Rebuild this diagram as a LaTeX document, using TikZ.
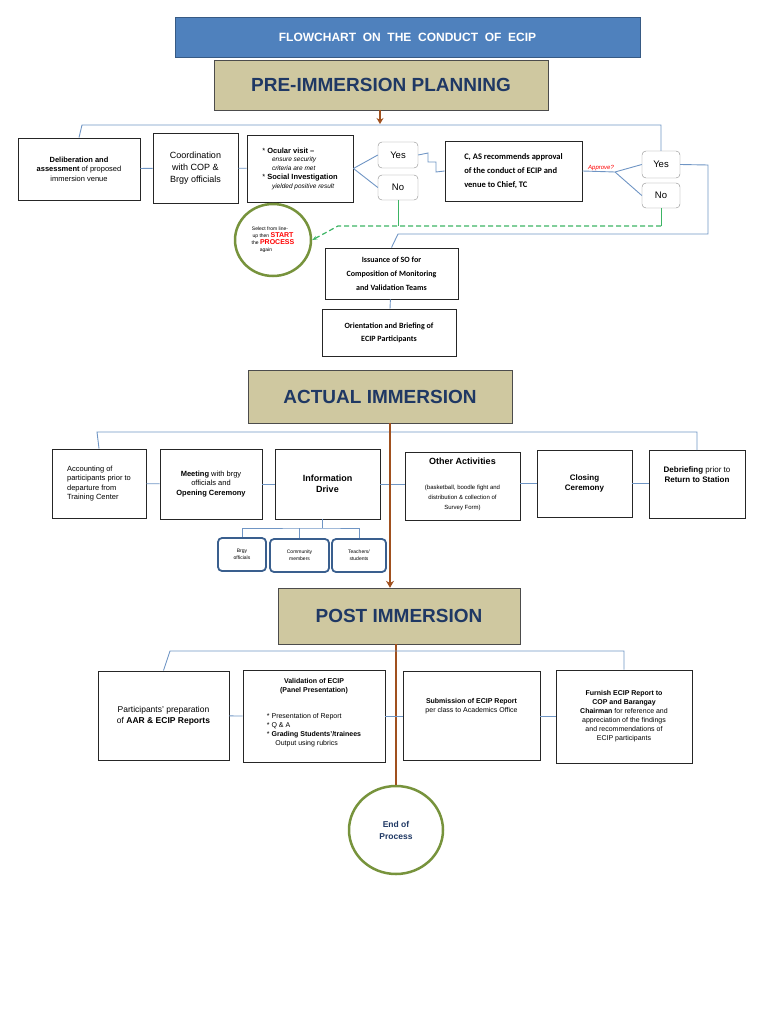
\documentclass[tikz,border=0pt]{standalone}
\usepackage{fontspec}
\setmainfont{Liberation Sans}
\newfontfamily\calfnt{Carlito}
\usetikzlibrary{arrows.meta,shapes.geometric}
\definecolor{lblue}{HTML}{6F95C4}
\definecolor{tblue}{HTML}{4F81BD}
\definecolor{tan}{HTML}{CFC8A0}
\definecolor{navy}{HTML}{1F3864}
\definecolor{brn}{HTML}{A0501E}
\definecolor{olive}{HTML}{77933C}
\definecolor{grn}{HTML}{3CB464}
\definecolor{sblue}{HTML}{3A5F8E}
\begin{document}
\begin{tikzpicture}[x=1pt,y=-1pt,
 box/.style={draw=black!85,line width=0.9pt,fill=white,align=center,inner sep=2pt,font=\fontsize{7.5}{9.5}\selectfont},
 yn/.style={draw=black!45,rounded corners=4pt,fill=white,font=\fontsize{9.5}{11}\selectfont,inner sep=0pt},
 head/.style={draw=black!70,fill=tan,font=\fontsize{19}{22}\bfseries\selectfont,text=navy,inner sep=0pt},
 sm/.style={draw=sblue,line width=1.8pt,rounded corners=4pt,fill=white,align=center,font=\fontsize{5}{7}\selectfont,inner sep=0pt},
 bl/.style={draw=lblue,line width=0.9pt},
 br/.style={draw=brn,line width=2.5pt},
 circ/.style={ellipse,draw=olive,line width=2.5pt,fill=white,align=center,inner sep=0pt}]
\useasboundingbox (0,0) rectangle (768,1024);
% title
\node[draw=tblue!70!black,fill=tblue,minimum width=465,minimum height=40,inner sep=0pt,text=white,font=\fontsize{12}{14}\bfseries\selectfont] (title) at (407.5,37) {FLOWCHART\ \ ON\ \ THE\ \ CONDUCT\ \ OF\ \ ECIP};
\node[head,minimum width=334,minimum height=50] (pre) at (381,85) {PRE-IMMERSION PLANNING};
% pre-immersion row
\node[box,minimum width=122,minimum height=62] (b1) at (79,169) {\textbf{Deliberation and}\\\textbf{assessment} of proposed\\immersion venue};
\node[box,minimum width=85,minimum height=70,font=\fontsize{9}{12}\selectfont] (b2) at (195.5,168) {Coordination\\with COP \&\\Brgy officials};
\node[box,minimum width=106,minimum height=67,align=left] (b3) at (300,168.5) {* \textbf{Ocular visit --}\\[-1pt]\hspace{1.3em}{\fontsize{6.5}{7.5}\selectfont\itshape ensure security}\\[-1pt]\hspace{1.3em}{\fontsize{6.5}{7.5}\selectfont\itshape criteria are met}\\* \textbf{Social Investigation}\\[-1pt]\hspace{1.3em}{\fontsize{6.5}{7.5}\selectfont\itshape yielded positive result}};
\node[yn,minimum width=40,minimum height=26] (y1) at (398,155) {Yes};
\node[yn,minimum width=40,minimum height=25] (n1) at (398,187.5) {No};
\node[box,minimum width=137,minimum height=60,align=left,font=\calfnt\fontsize{8.5}{14}\bfseries\selectfont] (b4) at (513.5,171) {C, AS recommends approval\\of the conduct of ECIP and\\venue to Chief, TC};
\node[yn,minimum width=38,minimum height=27] (y2) at (661,164.5) {Yes};
\node[yn,minimum width=38,minimum height=25] (n2) at (661,195.5) {No};
\node[circ,minimum width=76,minimum height=72,font=\fontsize{5}{7}\selectfont] (c1) at (273,240) {\hspace*{-6pt}Select from line-\\up then {\fontsize{7}{8}\bfseries\selectfont\color{red}START}\\the {\fontsize{7}{8}\bfseries\selectfont\color{red}PROCESS}\\again\hspace*{14pt}};
\node[box,minimum width=133,minimum height=51,font=\calfnt\fontsize{8}{14}\bfseries\selectfont] (iss) at (391.5,273.5) {Issuance of SO for\\Composition of Monitoring\\and Validation Teams};
\node[box,minimum width=134,minimum height=47,font=\calfnt\fontsize{8}{13}\bfseries\selectfont] (ori) at (389,332.5) {Orientation and Briefing of\\ECIP Participants};
% pre connectors
\draw[br,-{Stealth[length=6pt,width=7pt]},line width=1.6pt] (380,110) -- (380,124);
\draw[bl] (b1.north) -- (82,125) -| (y2.north);
\draw[bl] (b1) -- (b2); \draw[bl] (b2) -- (b3);
\draw[bl] (b3.east) -- (y1.west); \draw[bl] (b3.east) -- (n1.west);
\draw[bl] (y1.east) -- (428,153) -- (428,162) -- (436,162) -- (436,172) -- (b4.west);
\coordinate (ap) at (615,172);
\draw[bl] (b4.east) -- (ap) -- (y2.west); \draw[bl] (ap) -- (n2.west);
\node[font=\fontsize{6}{7}\itshape\selectfont,text=red] (apl) at (601,168) {Approve?};
\draw[bl] (y2.east) -- (708,165) -- (708,234) -- (398,234) -- (iss.north);
\draw[grn,line width=0.9pt] (n1.south) -- (398,226);
\draw[grn,line width=0.9pt] (n2.south) -- (661,226);
\draw[grn,line width=1.2pt,dash pattern=on 5pt off 3pt,-{Stealth[length=5pt]}] (661,226) -- (338,226) -- (c1.east);
\draw[bl] (iss) -- (ori);
% actual immersion
\node[head,minimum width=264,minimum height=53] (act) at (380,396.5) {ACTUAL IMMERSION};
\node[box,minimum width=94,minimum height=69,align=left] (a1) at (99,483.5) {Accounting of\\participants prior to\\departure from\\Training Center};
\node[box,minimum width=102,minimum height=70] (a2) at (211,484) {\textbf{Meeting} with brgy\\officials and\\\textbf{Opening Ceremony}};
\node[box,minimum width=105,minimum height=70,font=\fontsize{9}{11}\bfseries\selectfont] (a3) at (327.5,484) {Information\\Drive};
\node[box,minimum width=115,minimum height=68,anchor=north] (a4) at (462.5,452) {};
\node[font=\fontsize{9}{11}\bfseries\selectfont] (a4t) at (462.5,461) {Other Activities};
\node[align=center,font=\fontsize{6}{10}\selectfont] (a4s) at (462.5,498) {(basketball, boodle fight and\\distribution \& collection of\\Survey Form)};
\node[box,minimum width=95,minimum height=67,font=\fontsize{8}{10}\bfseries\selectfont] (a5) at (584.5,483.5) {Closing\\Ceremony};
\node[box,minimum width=96,minimum height=68,anchor=north] (a6) at (697,450) {};
\node[align=center,font=\fontsize{8}{10}\selectfont] (a6t) at (697,475) {\textbf{Debriefing} prior to\\\textbf{Return to Station}};
\node[sm,minimum width=48,minimum height=33] (s1) at (242,554.5) {Brgy\\officials};
\node[sm,minimum width=59,minimum height=33] (s2) at (299.5,555.5) {Community\\members};
\node[sm,minimum width=54,minimum height=33] (s3) at (359,555.5) {Teachers/\\students};
\coordinate (hub) at (322,528);
\draw[bl] (a1.north) -- (97,432) -| (a6.north);
\draw[bl] (a1) -- (a2); \draw[bl] (a2) -- (a3); \draw[bl] (a3.east) -- (a4.west |- a3.east);
\draw[bl] (a4.east |- a5.west) -- (a5.west); \draw[bl] (a5) -- (a6.west |- a5.east);
\draw[bl] (a3.south -| hub) -- (hub);
\draw[bl] (s1.north) |- (hub) -| (s3.north);
\draw[bl] (s2.north) -- (s2.north |- hub);
% post immersion
\node[head,minimum width=242,minimum height=56] (post) at (399,616) {POST IMMERSION};
\coordinate (ai) at (390,423);
\draw[br,-{Stealth[length=7pt,width=8pt]}] (ai) -- (ai |- post.north);
\node[box,minimum width=131,minimum height=89,font=\fontsize{8.5}{11}\selectfont] (p1) at (163.5,715.5) {Participants' preparation\\of \textbf{AAR \& ECIP Reports}};
\node[box,minimum width=142,minimum height=92,anchor=north] (p2) at (314,670) {};
\node[align=center,font=\fontsize{7}{8.5}\bfseries\selectfont] (p2a) at (314,686) {Validation of ECIP\\(Panel Presentation)};
\node[align=left,font=\fontsize{7}{9}\selectfont] (p2b) at (314,730) {* Presentation of Report\\* Q \& A\\* \textbf{Grading Students'/trainees}\\\hspace{1.2em}Output using rubrics};
\node[box,minimum width=137,minimum height=89,anchor=north] (p3) at (471.5,671) {};
\node[align=center,font=\fontsize{7}{8.5}\selectfont] (p3t) at (471.5,706) {\textbf{Submission of ECIP Report}\\per class to Academics Office};
\node[box,minimum width=136,minimum height=93,font=\fontsize{7}{9}\selectfont] (p4) at (624,716.5) {\textbf{Furnish ECIP Report to}\\\textbf{COP and Barangay}\\\textbf{Chairman} for reference and\\appreciation of the findings\\and recommendations of\\ECIP participants};
\node[circ,minimum width=94,minimum height=88,font=\fontsize{8.5}{12}\bfseries\selectfont,text=navy] (end) at (396,830) {End of\\Process};
\draw[br] (396,644) -- (end.north);
\draw[bl] (p1.north) -- (170,651) -| (p4.north);
\draw[bl] (p1) -- (p2); \draw[bl] (p2.east) -- (p3.west |- p2.east); \draw[bl] (p3.east |- p4.west) -- (p4.west);
\end{tikzpicture}
\end{document}
